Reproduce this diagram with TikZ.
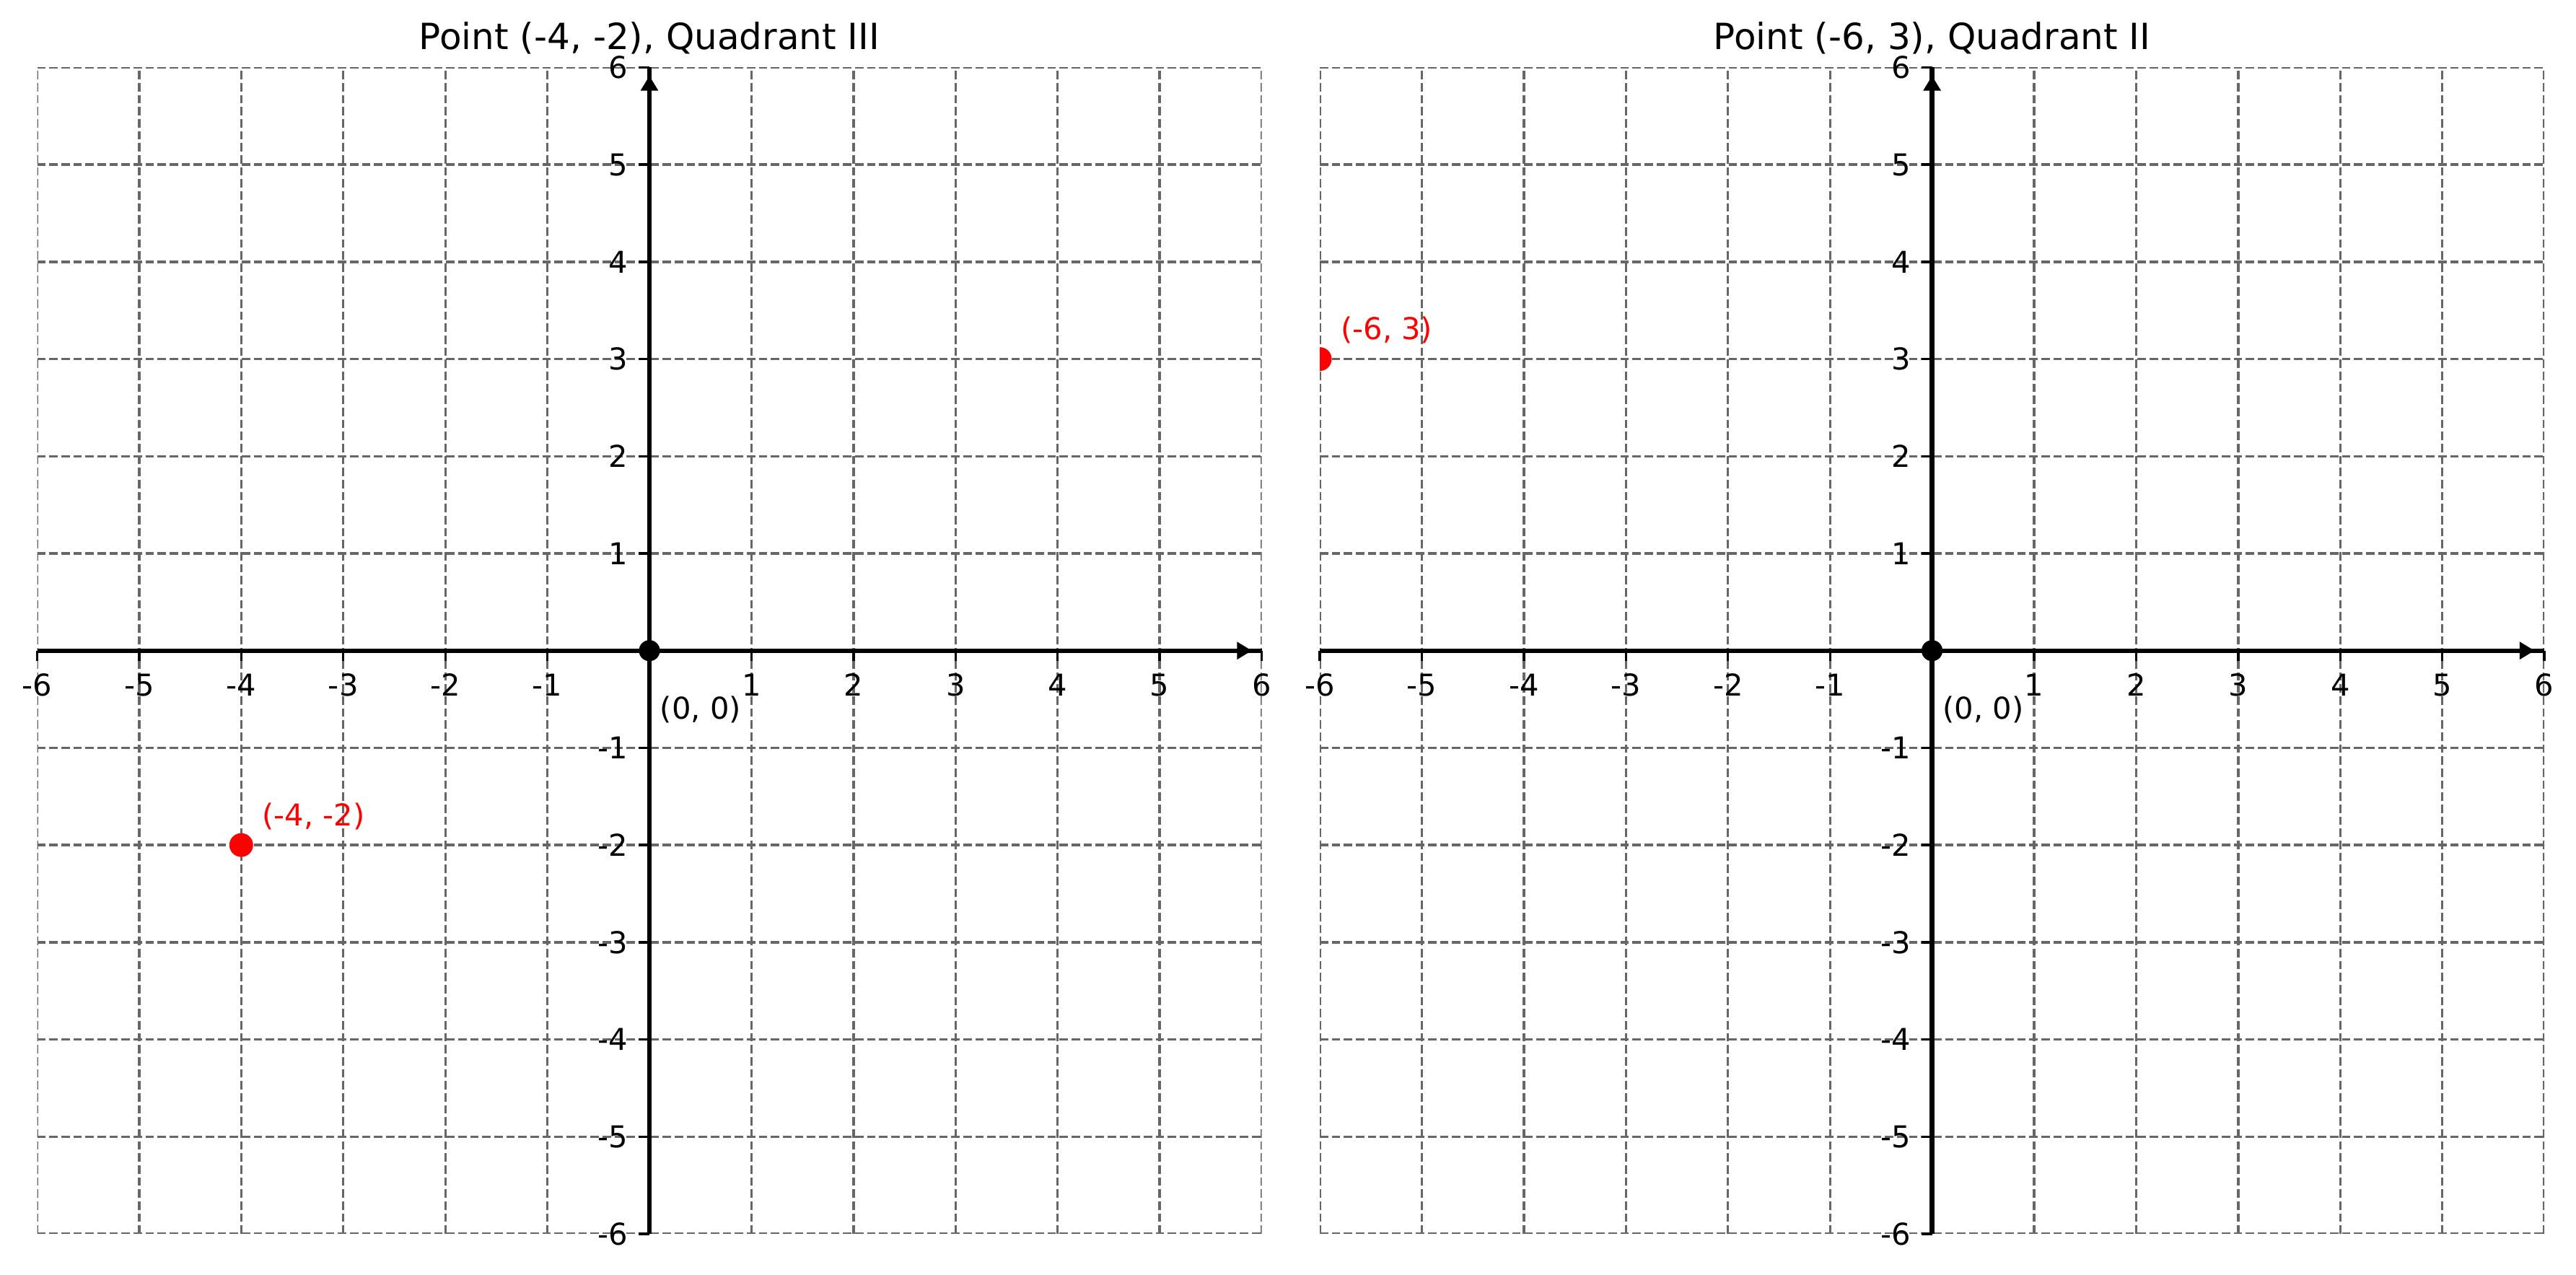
\documentclass[tikz,border=0pt]{standalone}
\usepackage{fontspec}
\setmainfont{DejaVu Sans}
\usetikzlibrary{arrows.meta}

\begin{document}
\begin{tikzpicture}[x=33.94pt, y=32.33pt,
	gridline/.style={black!60, line width=0.8pt, dash pattern=on 2.8pt off 1.2pt},
	axisline/.style={black, line width=1.5pt},
	axisarrow/.style={axisline, -{Triangle[length=5pt,width=5.6pt]}},
	tickmark/.style={black, line width=0.8pt},
	ticklabel/.style={inner sep=0pt, font=\fontsize{10}{12}\selectfont},
	plottitle/.style={inner sep=0pt, anchor=base, font=\fontsize{12}{14}\selectfont},
	origindot/.style={circle, fill=black, inner sep=0pt, minimum size=7pt},
	pointdot/.style={circle, fill=red, inner sep=0pt, minimum size=7.9pt},
	pointlabel/.style={ticklabel, red, anchor=base west}]

	\useasboundingbox (0pt,0pt) rectangle (856.8pt,423.84pt);

	% left panel: (-4, -2)
	\begin{scope}[shift={(216pt,207.43pt)}]
		\begin{scope}
			\clip (-6,-6) rectangle (6,6);
			\foreach \t in {-6,...,6} {
				\draw[gridline] (\t,-6) -- (\t,6);
				\draw[gridline] (-6,\t) -- (6,\t);
			}
		\end{scope}
		\coordinate (L-o) at (0,0);
		\coordinate (L-xmin) at (-6,0);
		\coordinate (L-xmax) at (6,0);
		\coordinate (L-ymin) at (0,-6);
		\coordinate (L-ymax) at (0,6);
		\coordinate (L-xtip) at (5.905,0);
		\coordinate (L-ytip) at (0,5.915);
		\draw[axisline] (L-xmin) -- (L-xmax);
		\draw[axisline] (L-ymin) -- (L-ymax);
		\draw[axisarrow] (L-o) -- (L-xtip);
		\draw[axisarrow] (L-o) -- (L-ytip);
		\foreach \t in {-6,...,6} {
			\draw[tickmark] (\t,0) -- ++(0,-3.5pt);
			\draw[tickmark] (0,\t) -- ++(-3.5pt,0);
		}
		\foreach \t in {-6,...,-1,1,2,...,6} {
			\node[ticklabel, anchor=north] (L-xl\t) at ([yshift=-7.5pt]\t,0) {\t};
			\node[ticklabel, anchor=east] (L-yl\t) at ([xshift=-7pt]0,\t) {\t};
		}
		\node[plottitle] (L-title) at ([yshift=6pt]0,6) {Point (-4, -2), Quadrant III};
		\node[origindot] (L-dot) at (L-o) {};
		\node[ticklabel, anchor=base west] (L-olab) at (0.1,-0.7) {(0, 0)};
		\begin{scope}
			\clip (-6,-6) rectangle (6,6);
			\node[pointdot] (L-pt) at (-4,-2) {};
		\end{scope}
		\node[pointlabel] (L-ptlab) at (-3.8,-1.8) {(-4, -2)};
	\end{scope}

	% right panel: (-6, 3)
	\begin{scope}[shift={(642.62pt,207.43pt)}]
		\begin{scope}
			\clip (-6,-6) rectangle (6,6);
			\foreach \t in {-6,...,6} {
				\draw[gridline] (\t,-6) -- (\t,6);
				\draw[gridline] (-6,\t) -- (6,\t);
			}
		\end{scope}
		\coordinate (R-o) at (0,0);
		\coordinate (R-xmin) at (-6,0);
		\coordinate (R-xmax) at (6,0);
		\coordinate (R-ymin) at (0,-6);
		\coordinate (R-ymax) at (0,6);
		\coordinate (R-xtip) at (5.905,0);
		\coordinate (R-ytip) at (0,5.915);
		\draw[axisline] (R-xmin) -- (R-xmax);
		\draw[axisline] (R-ymin) -- (R-ymax);
		\draw[axisarrow] (R-o) -- (R-xtip);
		\draw[axisarrow] (R-o) -- (R-ytip);
		\foreach \t in {-6,...,6} {
			\draw[tickmark] (\t,0) -- ++(0,-3.5pt);
			\draw[tickmark] (0,\t) -- ++(-3.5pt,0);
		}
		\foreach \t in {-6,...,-1,1,2,...,6} {
			\node[ticklabel, anchor=north] (R-xl\t) at ([yshift=-7.5pt]\t,0) {\t};
			\node[ticklabel, anchor=east] (R-yl\t) at ([xshift=-7pt]0,\t) {\t};
		}
		\node[plottitle] (R-title) at ([yshift=6pt]0,6) {Point (-6, 3), Quadrant II};
		\node[origindot] (R-dot) at (R-o) {};
		\node[ticklabel, anchor=base west] (R-olab) at (0.1,-0.7) {(0, 0)};
		\begin{scope}
			\clip (-6,-6) rectangle (6,6);
			\node[pointdot] (R-pt) at (-6,3) {};
		\end{scope}
		\node[pointlabel] (R-ptlab) at (-5.8,3.2) {(-6, 3)};
	\end{scope}
\end{tikzpicture}
\end{document}
